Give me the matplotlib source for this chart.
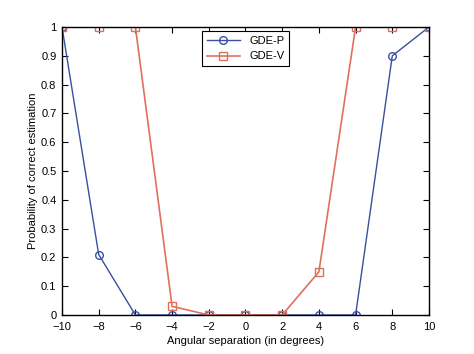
import matplotlib
matplotlib.use("Agg")
import matplotlib.pyplot as plt

angles = [-10, -8, -6, -4, -2, 0, 2, 4, 6, 8, 10]
gde_p = [1.0, 0.21, 0.0, 0.0, 0.0, 0.0, 0.0, 0.0, 0.0, 0.9, 1.0]
gde_v = [1.0, 1.0, 1.0, 0.03, 0.0, 0.0, 0.0, 0.15, 1.0, 1.0, 1.0]
xticks = [-10, -8, -6, -4, -2, 0, 2, 4, 6, 8, 10]
yticks = [0, 0.1, 0.2, 0.3, 0.4, 0.5, 0.6, 0.7, 0.8, 0.9, 1]
ytick_labels = ["0", "0.1", "0.2", "0.3", "0.4", "0.5", "0.6", "0.7", "0.8", "0.9", "1"]

plt.rcParams['font.family'] = ['Liberation Sans', 'DejaVu Sans']
fig = plt.figure(figsize=(4.74, 3.54), dpi=100)
ax = fig.add_axes([62/474, 39/354, 367/474, 288/354])

ax.plot(angles, gde_p, color='#3a4fa0', marker='o', markersize=5.5,
        markerfacecolor='none', markeredgewidth=1.0, linewidth=1.0, label='GDE-P')
ax.plot(angles, gde_v, color='#e0705e', marker='s', markersize=5.5,
        markerfacecolor='none', markeredgewidth=1.0, linewidth=1.2, label='GDE-V')

ax.set_xlim(-10, 10)
ax.set_ylim(0, 1)
ax.set_xticks(xticks)
ax.set_yticks(yticks)
ax.set_yticklabels(ytick_labels)
ax.tick_params(direction='in', top=True, right=True, labelsize=8, length=4)
ax.tick_params(axis='x', pad=5)
ax.tick_params(axis='y', pad=4)
for s in ax.spines.values():
    s.set_linewidth(1.0)
ax.set_xlabel('Angular separation (in degrees)', fontsize=8, labelpad=3)
ax.set_ylabel('Probability of correct estimation', fontsize=8, labelpad=2)

leg = ax.legend(loc='upper center', fontsize=8, fancybox=False, framealpha=1,
                edgecolor='black', borderaxespad=0.4, handlelength=3)
leg.get_frame().set_linewidth(0.8)

fig.savefig('out.png', dpi=100)
